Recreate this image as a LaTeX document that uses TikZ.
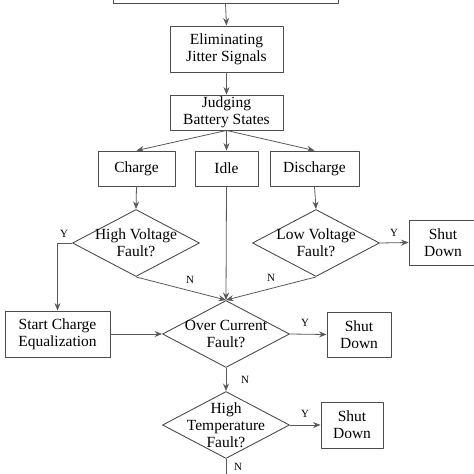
\documentclass[tikz,border=0pt]{standalone}
\usepackage{fontspec}
\setmainfont{Liberation Serif}
\usetikzlibrary{shapes.geometric,arrows.meta}
\begin{document}
\begin{tikzpicture}[x=1pt,y=-1pt,line join=round,
  font=\fontsize{15.5}{17}\selectfont,>={Stealth[length=7.5pt,width=6pt]},
  box/.style={draw=black!70,line width=0.9pt,align=center,inner sep=0pt},
  dia/.style={diamond,draw=black!70,line width=0.9pt,inner sep=0pt,
    minimum width=127pt,minimum height=67pt},
  lbl/.style={font=\fontsize{11}{12}\selectfont,inner sep=0pt},
  link/.style={draw=black!65,line width=0.8pt}]
  \useasboundingbox (0,0) rectangle (474,474);
  % boxes
  \node[box,minimum width=225pt,minimum height=46pt] (top) at (225.5,-20) {};
  \node[box,minimum width=113pt,minimum height=46pt] (elim) at (226.5,49)
    {Eliminating\\Jitter Signals};
  \node[box,minimum width=113pt,minimum height=35pt] (judge) at (226.5,112.5)
    {Judging\\Battery States};
  \node[box,minimum width=77pt,minimum height=35pt] (charge) at (136.5,168.5) {Charge};
  \node[box,minimum width=63pt,minimum height=35pt] (idle) at (226.5,168.5) {Idle};
  \node[box,minimum width=89pt,minimum height=35pt] (dis) at (314.5,168.5) {Discharge};
  % decisions
  \node[dia,label={[align=center]center:High Voltage\\Fault?}] (hv) at (136,243) {};
  \node[dia,label={[align=center]center:Low Voltage\\Fault?}] (lv) at (316,243) {};
  \node[dia,label={[align=center]center:Over Current\\Fault?}] (oc) at (226,334) {};
  \node[dia,label={[align=center]center:High\\Temperature\\Fault?}] (ht) at (226,425) {};
  % actions
  \node[box,minimum width=68pt,minimum height=45pt] (sdlv) at (443,242.5) {Shut\\Down};
  \node[box,minimum width=105pt,minimum height=46pt] (equal) at (57.5,334)
    {Start Charge\\Equalization};
  \node[box,minimum width=64pt,minimum height=45pt] (sdoc) at (359,334.5) {Shut\\Down};
  \node[box,minimum width=62pt,minimum height=46pt] (sdht) at (352,425) {Shut\\Down};
  \coordinate (out) at (226,480);
  % connectors
  \draw[link,->] (top.south) -- (elim.north);
  \draw[link,->] (elim.south) -- (judge.north);
  \draw[link,->] (judge.south) -- (charge.north);
  \draw[link,->] (judge.south) -- (idle.north);
  \draw[link,->] (judge.south) -- (dis.north);
  \draw[link,->] (charge.south) -- (hv.north);
  \draw[link,->] (dis.south) -- (lv.north);
  \draw[link,->] (hv.west) -| (equal.north);
  \draw[link,->] (lv.east) -- (sdlv.west);
  \draw[link,->] (idle.south) -- (oc.north);
  \draw[link,->] (hv.south) -- (oc.north);
  \draw[link,->] (lv.south) -- (oc.north);
  \draw[link,->] (equal.east) -- (oc.west);
  \draw[link,->] (oc.east) -- (sdoc.west);
  \draw[link,->] (oc.south) -- (ht.north);
  \draw[link,->] (ht.east) -- (sdht.west);
  \draw[link] (ht.south) -- (out);
  % branch labels
  \node[lbl] (hvy) at (64,234) {Y};
  \node[lbl] (hvn) at (190,280) {N};
  \node[lbl] (lvy) at (394,233) {Y};
  \node[lbl] (lvn) at (271,278) {N};
  \node[lbl] (ocy) at (305,323) {Y};
  \node[lbl] (ocn) at (245,380) {N};
  \node[lbl] (hty) at (305,414) {Y};
  \node[lbl] (htn) at (238,467) {N};
\end{tikzpicture}
\end{document}
